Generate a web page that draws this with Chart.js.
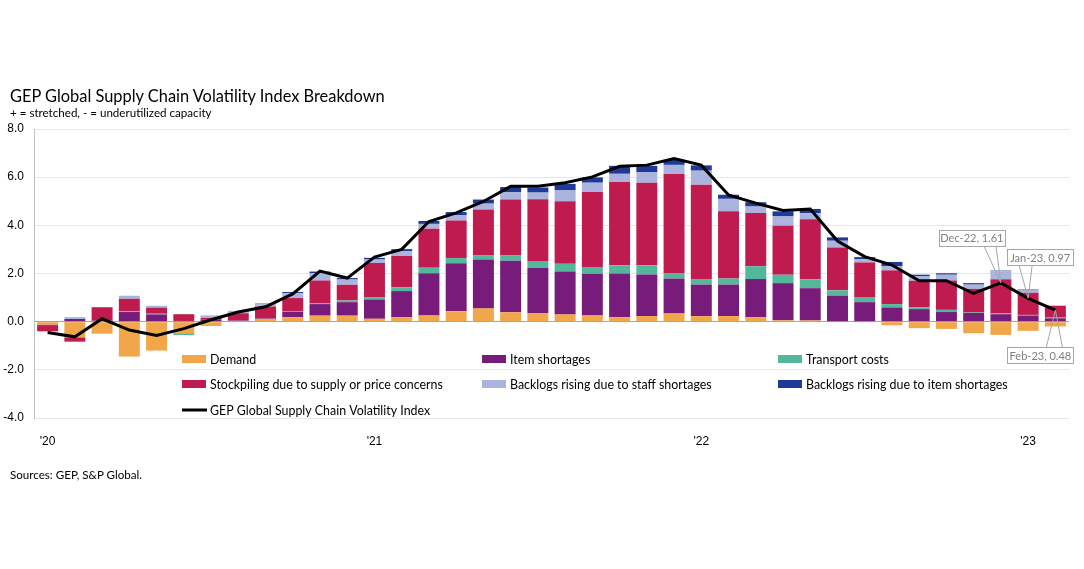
<!DOCTYPE html>
<html>
<head>
<meta charset="utf-8">
<script src="https://cdn.jsdelivr.net/npm/chart.js@4.4.1/dist/chart.umd.min.js"></script>
<style>
  html, body { margin: 0; padding: 0; background: #fff; }
  #wrap { position: relative; width: 1084px; height: 569px; }
  #chart { position: absolute; left: 0; top: 0; }
  .txt { position: absolute; left: 10px; font-family: Lato, 'Open Sans', sans-serif; color: #000; white-space: nowrap; }
  #title { top: 86px; font-size: 16.4px; }
  #subtitle { top: 106px; font-size: 11.6px; }
  #sources { top: 468px; font-size: 11.6px; }
</style>
</head>
<body>
<div id="wrap">
  <canvas id="chart" width="1084" height="569"></canvas>
  <div id="title" class="txt">GEP Global Supply Chain Volatility Index Breakdown</div>
  <div id="subtitle" class="txt">+ = stretched, - = underutilized capacity</div>
  <div id="sources" class="txt">Sources: GEP, S&amp;P Global.</div>
</div>
<script>
// monthly categories, Jan-20 .. Feb-23
const months = ['Jan-20','Feb-20','Mar-20','Apr-20','May-20','Jun-20','Jul-20','Aug-20','Sep-20','Oct-20','Nov-20','Dec-20',
                'Jan-21','Feb-21','Mar-21','Apr-21','May-21','Jun-21','Jul-21','Aug-21','Sep-21','Oct-21','Nov-21','Dec-21',
                'Jan-22','Feb-22','Mar-22','Apr-22','May-22','Jun-22','Jul-22','Aug-22','Sep-22','Oct-22','Nov-22','Dec-22',
                'Jan-23','Feb-23'];
const yearTicks = {'Jan-20': "'20", 'Jan-21': "'21", 'Jan-22': "'22", 'Jan-23': "'23"};

const demand =         [-0.12,-0.65,-0.50,-1.45,-1.20,-0.48,-0.18, 0.03, 0.12, 0.18, 0.25, 0.25,
                         0.12, 0.18, 0.26, 0.43, 0.55, 0.39, 0.36, 0.30, 0.26, 0.19, 0.23, 0.34,
                         0.23, 0.23, 0.18, 0.06, 0.05, 0.00, 0.00,-0.15,-0.27,-0.30,-0.48,-0.55,
                        -0.38,-0.20];
const itemShortages =  [-0.05, 0.11, 0.05, 0.40, 0.30, 0.03, 0.08, 0.02, 0.03, 0.23, 0.48, 0.56,
                         0.80, 1.09, 1.75, 2.00, 2.03, 2.14, 1.87, 1.78, 1.73, 1.81, 1.73, 1.45,
                         1.31, 1.31, 1.59, 1.54, 1.34, 1.08, 0.81, 0.59, 0.52, 0.40, 0.36, 0.31,
                         0.25, 0.14];
const transportCosts = [ 0.00, 0.00, 0.00, 0.03, 0.03,-0.08, 0.00, 0.00, 0.00, 0.02, 0.03, 0.07,
                         0.10, 0.16, 0.23, 0.21, 0.17, 0.23, 0.29, 0.32, 0.28, 0.34, 0.38, 0.23,
                         0.23, 0.25, 0.53, 0.35, 0.37, 0.22, 0.19, 0.14, 0.08, 0.09, 0.02, 0.04,
                         0.03, 0.03];
const stockpiling =    [-0.23,-0.18, 0.55, 0.52, 0.25, 0.28, 0.08, 0.30, 0.48, 0.55, 0.95, 0.65,
                         1.42, 1.30, 1.62, 1.56, 1.91, 2.31, 2.56, 2.60, 3.11, 3.46, 3.43, 4.11,
                         3.92, 2.79, 2.21, 2.03, 2.49, 1.78, 1.46, 1.40, 1.10, 1.22, 0.98, 1.41,
                         0.92, 0.48];
const backlogsStaff =  [ 0.00, 0.08, 0.00, 0.10, 0.08, 0.00, 0.10, 0.10, 0.10, 0.20, 0.30, 0.22,
                         0.14, 0.20, 0.20, 0.23, 0.24, 0.30, 0.28, 0.45, 0.39, 0.34, 0.43, 0.38,
                         0.58, 0.52, 0.27, 0.39, 0.25, 0.28, 0.14, 0.17, 0.18, 0.24, 0.18, 0.34,
                         0.12, 0.03];
const backlogsItem =   [ 0.00, 0.00, 0.00, 0.02, 0.00, 0.00, 0.00, 0.00, 0.02, 0.05, 0.07, 0.06,
                         0.07, 0.08, 0.12, 0.12, 0.17, 0.22, 0.21, 0.27, 0.22, 0.33, 0.27, 0.21,
                         0.22, 0.17, 0.18, 0.21, 0.18, 0.14, 0.08, 0.18, 0.07, 0.06, 0.06, 0.02,
                         0.02, 0.00];
const volatilityIndex = [-0.45,-0.63, 0.12,-0.35,-0.57,-0.29, 0.08, 0.40, 0.62, 1.15, 2.10, 1.81,
                          2.68, 3.00, 4.16, 4.52, 4.99, 5.62, 5.62, 5.77, 6.01, 6.45, 6.50, 6.77,
                          6.50, 5.26, 4.92, 4.62, 4.68, 3.35, 2.70, 2.35, 1.70, 1.70, 1.17, 1.61,
                          0.97, 0.48];
const calloutMonths = ['Dec-22', 'Jan-23', 'Feb-23'];

const textFont = 'Lato, "Open Sans", sans-serif';
const axisFont = { family: '"Liberation Sans", Arial, sans-serif', size: 12 };

// legend drawn inside the plot, 3 columns
const insideLegend = {
  id: 'insideLegend',
  afterDraw(chart) {
    const ctx = chart.ctx;
    const cols = [182, 482, 778];
    const rows = [359, 384, 410];
    ctx.save();
    ctx.font = '12.4px ' + textFont;
    ctx.textBaseline = 'middle';
    chart.data.datasets.forEach((ds, k) => {
      const x = cols[k % 3], y = rows[Math.floor(k / 3)];
      if (ds.type === 'line') {
        ctx.strokeStyle = ds.borderColor;
        ctx.lineWidth = 3;
        ctx.beginPath();
        ctx.moveTo(x, y);
        ctx.lineTo(x + 25, y);
        ctx.stroke();
      } else {
        ctx.fillStyle = ds.backgroundColor;
        ctx.fillRect(x, y - 4, 24, 8);
      }
      ctx.fillStyle = '#000';
      ctx.fillText(ds.label, x + 28, y + 1);
    });
    ctx.restore();
  }
};

// data callouts with wedge leaders
const callouts = {
  id: 'callouts',
  afterDatasetsDraw(chart, args, opts) {
    const ctx = chart.ctx;
    const li = chart.data.datasets.findIndex(d => d.type === 'line');
    const pts = chart.getDatasetMeta(li).data;
    ctx.save();
    ctx.font = '11px ' + textFont;
    ctx.textAlign = 'center';
    ctx.textBaseline = 'middle';
    opts.items.forEach(it => {
      const i = months.indexOf(it.month);
      const p = pts[i];
      const cx = p.x + it.dx, cy = p.y + it.dy;
      const w = 66, h = 16;
      const edge = it.dy < 0 ? cy + h / 2 : cy - h / 2;
      ctx.strokeStyle = '#A6A6A6';
      ctx.lineWidth = 1;
      ctx.beginPath();
      ctx.moveTo(cx + it.w0, edge);
      ctx.lineTo(p.x, p.y);
      ctx.lineTo(cx + it.w1, edge);
      ctx.stroke();
      ctx.fillStyle = '#fff';
      ctx.fillRect(cx - w / 2, cy - h / 2, w, h);
      ctx.strokeRect(Math.round(cx - w / 2) + 0.5, Math.round(cy - h / 2) + 0.5, w, h);
      ctx.fillStyle = '#7F7F7F';
      ctx.fillText(it.month + ', ' + volatilityIndex[i].toFixed(2), cx, cy + 1);
    });
    ctx.restore();
  }
};

const ctx = document.getElementById('chart').getContext('2d');
new Chart(ctx, {
  type: 'bar',
  data: {
    labels: months,
    datasets: [
      { label: 'Demand', data: demand, backgroundColor: '#F2A64A', order: 1 },
      { label: 'Item shortages', data: itemShortages, backgroundColor: '#771C7B', order: 1 },
      { label: 'Transport costs', data: transportCosts, backgroundColor: '#52B79B', order: 1 },
      { label: 'Stockpiling due to supply or price concerns', data: stockpiling, backgroundColor: '#BF1B4F', order: 1 },
      { label: 'Backlogs rising due to staff shortages', data: backlogsStaff, backgroundColor: '#AAB4DE', order: 1 },
      { label: 'Backlogs rising due to item shortages', data: backlogsItem, backgroundColor: '#1F3A96', order: 1 },
      { type: 'line', label: 'GEP Global Supply Chain Volatility Index', data: volatilityIndex,
        borderColor: '#000', borderWidth: 3, pointRadius: 0, tension: 0, fill: false,
        stack: 'index', order: 0 }
    ]
  },
  options: {
    responsive: false,
    animation: false,
    datasets: { bar: { barPercentage: 0.77, categoryPercentage: 1 } },
    layout: { padding: { top: 129, right: 15, left: 0, bottom: 0 } },
    plugins: {
      legend: { display: false },
      tooltip: { enabled: false },
      callouts: {
        items: [
          { month: 'Dec-22', dx: -29, dy: -45, w0: 12, w1: 24 },
          { month: 'Jan-23', dx: 12, dy: -41, w0: -21, w1: -8 },
          { month: 'Feb-23', dx: -15, dy: 45, w0: 6, w1: 22 }
        ]
      }
    },
    scales: {
      x: {
        stacked: true,
        grid: { display: false },
        border: { display: false },
        ticks: {
          autoSkip: false, maxRotation: 0, color: '#000', font: axisFont, padding: 8,
          callback: (v, i) => yearTicks[months[i]] || ''
        },
        afterFit: s => { s.height = 151; }
      },
      y: {
        stacked: true,
        min: -4, max: 8,
        ticks: { stepSize: 2, color: '#000', font: axisFont, padding: 10, callback: v => v.toFixed(1) },
        grid: { drawTicks: false, color: c => c.tick && c.tick.value === 0 ? '#A6A6A6' : '#E6E6E6' },
        border: { display: true, color: '#BFBFBF' },
        afterFit: s => { s.width = 34; }
      }
    }
  },
  plugins: [insideLegend, callouts]
});
</script>
</body>
</html>
